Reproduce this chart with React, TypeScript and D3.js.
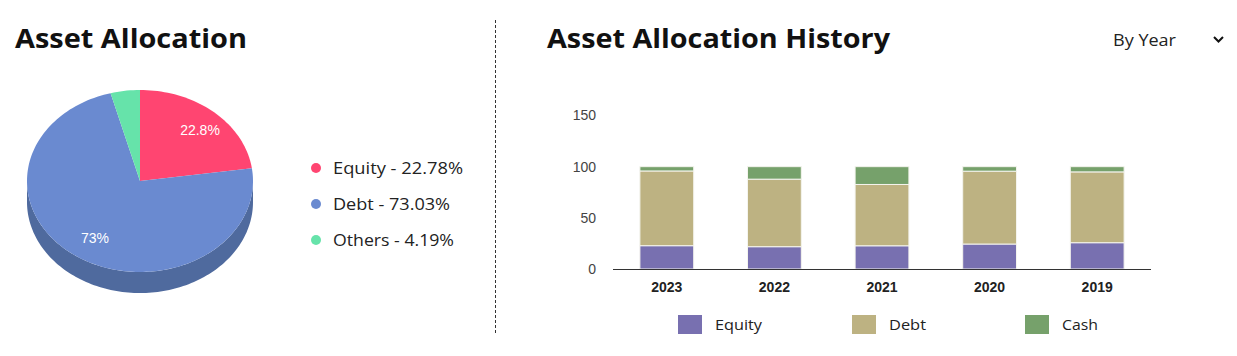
import React from "react";
import * as d3 from "d3";

const pieLabels = ["Equity", "Debt", "Others"];
const pieValues = [22.78, 73.03, 4.19];
const pieShortLabels = ["22.8%", "73%", ""];
const pieColors = ["#ff4571", "#6a8ad0", "#66e3aa"];

const years = ["2023", "2022", "2021", "2020", "2019"];
const equityValues = [22.78, 21.8, 22.7, 24.4, 25.7];
const debtValues = [73.03, 66.0, 59.9, 71.2, 69.2];
const cashValues = [4.19, 12.2, 17.4, 4.4, 5.1];
const seriesNames = ["Equity", "Debt", "Cash"];
const seriesColors = ["#7870b0", "#bdb282", "#76a16b"];
const yTicks = [0, 50, 100, 150];

const W = 1237;
const H = 356;
const FONT = "'Open Sans', Lato, sans-serif";

const pieLegendWidths = [130, 117, 121];
const barLegendWidths = [47, 37, 36];

export default function App() {
  const cx = 140, cy = 181, rx = 113, ry = 91, depth = 21;
  const pie = d3.pie<number>().sort(null).value((d) => d)(pieValues);
  const pt = (a: number) => [cx + rx * Math.sin(a), cy - ry * Math.cos(a)];
  const slicePath = (a0: number, a1: number) => {
    const p = d3.path();
    p.moveTo(cx, cy);
    const steps = Math.max(2, Math.ceil(((a1 - a0) / (Math.PI * 2)) * 200));
    for (let i = 0; i <= steps; i++) {
      const a = a0 + ((a1 - a0) * i) / steps;
      const [x, y] = pt(a);
      p.lineTo(x, y);
    }
    p.closePath();
    return p.toString();
  };
  const sidePath = () => {
    const p = d3.path();
    const n = 120;
    for (let i = 0; i <= n; i++) {
      const a = Math.PI / 2 + (Math.PI * i) / n;
      const [x, y] = pt(a);
      if (i === 0) p.moveTo(x, y);
      else p.lineTo(x, y);
    }
    for (let i = n; i >= 0; i--) {
      const a = Math.PI / 2 + (Math.PI * i) / n;
      const [x, y] = pt(a);
      p.lineTo(x, y + depth);
    }
    p.closePath();
    return p.toString();
  };

  const x = d3.scaleBand<string>().domain(years).range([613, 1151]).paddingInner(0.5).paddingOuter(0.25);
  const y = d3.scaleLinear().domain([0, 150]).range([269, 115.5]);
  const rows = years.map((yr, i) => ({ year: yr, Equity: equityValues[i], Debt: debtValues[i], Cash: cashValues[i] }));
  const stacked = d3.stack<any>().keys(seriesNames)(rows);

  const legendX = [678, 852, 1025];

  return (
    <svg width={W} height={H} style={{ position: "absolute", left: 0, top: 0, background: "#fff" }} fontFamily={FONT}>
      <text x={15} y={48} fontSize={27} fontWeight={700} fill="#111" textLength={232} lengthAdjust="spacingAndGlyphs">Asset Allocation</text>
      <text x={547} y={48} fontSize={27} fontWeight={700} fill="#111" textLength={343} lengthAdjust="spacingAndGlyphs">Asset Allocation History</text>
      <line x1={495.5} x2={495.5} y1={20} y2={334} stroke="#333" strokeDasharray="3,2" strokeWidth={1} />

      <path d={sidePath()} fill="#4f6a9e" />
      {pie.map((s, i) => (
        <path key={i} d={slicePath(s.startAngle, s.endAngle)} fill={pieColors[i]} />
      ))}
      {pie.map((s, i) => {
        if (!pieShortLabels[i]) return null;
        const [lx, ly] = i === 0 ? [200, 130] : [95, 238];
        return (
          <text key={i} x={lx} y={ly} dy="0.35em" textAnchor="middle" fill="#fff" fontSize={14} fontFamily="Arial, 'Liberation Sans', sans-serif">
            {pieShortLabels[i]}
          </text>
        );
      })}
      {pieLabels.map((l, i) => (
        <g key={l} transform={`translate(316, ${168 + i * 36})`}>
          <circle r={5} fill={pieColors[i]} />
          <text x={17} dy="0.35em" fontSize={16} fill="#222" textLength={pieLegendWidths[i]} lengthAdjust="spacingAndGlyphs">{`${l} - ${pieValues[i].toFixed(2)}%`}</text>
        </g>
      ))}

      <text x={1113} y={40} dy="0.35em" fontSize={16} fill="#222" textLength={63} lengthAdjust="spacingAndGlyphs">By Year</text>
      <path d="M1214,37 L1218.5,41.5 L1223,37" fill="none" stroke="#111" strokeWidth={2} />

      {yTicks.map((t) => (
        <text key={t} x={596} y={y(t)} dy="0.35em" textAnchor="end" fontSize={14} fill="#444" fontFamily="Arial, 'Liberation Sans', sans-serif">
          {t}
        </text>
      ))}
      {stacked.map((layer, li) => (
        <g key={layer.key} fill={seriesColors[li]}>
          {layer.map((d: any, i: number) => (
            <rect
              key={i}
              x={x(years[i])}
              width={x.bandwidth()}
              y={y(d[1])}
              height={Math.max(0, y(d[0]) - y(d[1]))}
              stroke="#f4f4ee"
              strokeWidth={1}
            />
          ))}
        </g>
      ))}
      <line x1={613} x2={1151} y1={269.5} y2={269.5} stroke="#333" strokeWidth={1} />
      {years.map((yr) => (
        <text key={yr} x={(x(yr) as number) + x.bandwidth() / 2} y={287} dy="0.35em" textAnchor="middle" fontSize={14} fontWeight={700} fill="#222" fontFamily="Arial, 'Liberation Sans', sans-serif">
          {yr}
        </text>
      ))}
      {seriesNames.map((s, i) => (
        <g key={s}>
          <rect x={legendX[i]} y={315} width={24} height={19} fill={seriesColors[i]} />
          <text x={legendX[i] + 37} y={325} dy="0.35em" fontSize={15} fill="#222" textLength={barLegendWidths[i]} lengthAdjust="spacingAndGlyphs">{s}</text>
        </g>
      ))}
    </svg>
  );
}
